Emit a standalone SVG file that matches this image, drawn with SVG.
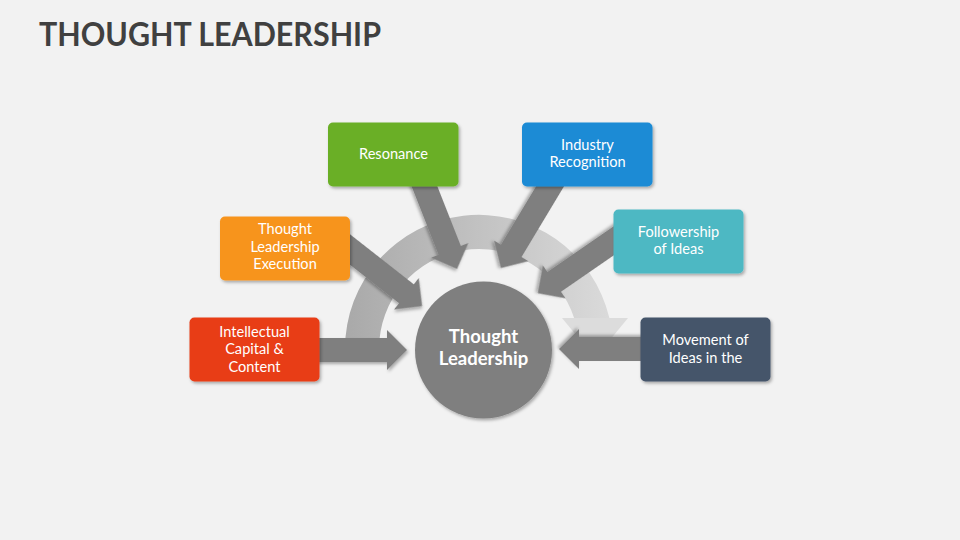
<svg xmlns="http://www.w3.org/2000/svg" width="960" height="540" viewBox="0 0 960 540">
<defs>
<filter id="sh" x="-20%" y="-20%" width="140%" height="140%">
<feDropShadow dx="1.5" dy="2" stdDeviation="1.5" flood-color="#000" flood-opacity="0.3"/>
</filter>
<linearGradient id="arcg" x1="345" y1="0" x2="630" y2="0" gradientUnits="userSpaceOnUse">
<stop offset="0" stop-color="#A9A9A9"/>
<stop offset="1" stop-color="#DEDEDE"/>
</linearGradient>
<style>
.box{filter:url(#sh)}
.lbl{font-family:Lato,"Open Sans","Liberation Sans",sans-serif;font-size:14.6px;fill:#FFFFFF;text-anchor:middle}
.arr{fill:#7F7F7F;filter:url(#sh)}
</style>
</defs>
<rect width="960" height="540" fill="#F2F2F2"/>
<text x="39" y="45.5" font-family="Lato,'Open Sans','Liberation Sans',sans-serif" font-weight="bold" font-size="32" fill="#404040" textLength="342" lengthAdjust="spacingAndGlyphs">THOUGHT LEADERSHIP</text>

<g id="cycle-arc">
<path d="M345,349 A134,134 0 0 1 609.4,318 L574.1,318 A100,100 0 0 0 379,349 Z" fill="url(#arcg)"/>
<polygon points="562,318 628,318 595,358" fill="#DCDCDC"/>
</g>

<g id="connectors">
<path class="arr" transform="translate(300,350)" d="M0,-12H87V-20L107,0L87,20V12H0Z"/>
<path class="arr" transform="translate(660,349) rotate(180)" d="M0,-12H81V-20L101,0L81,20V12H0Z"/>
<path class="arr" transform="translate(334,237) rotate(38.1)" d="M0,-12H92V-20L112,0L92,20V12H0Z"/>
<path class="arr" transform="translate(420,175) rotate(68.5)" d="M0,-12H81V-20L101,0L81,20V12H0Z"/>
<path class="arr" transform="translate(555,178) rotate(121)" d="M0,-12H85V-20L105,0L85,20V12H0Z"/>
<path class="arr" transform="translate(625,233) rotate(145.4)" d="M0,-12H86V-20L106,0L86,20V12H0Z"/>
</g>

<g id="center">
<circle cx="483.5" cy="350" r="68.5" fill="#7F7F7F" filter="url(#sh)"/>
<text x="483.5" y="343" font-family="Lato,'Open Sans','Liberation Sans',sans-serif" font-weight="bold" font-size="18.5" fill="#FFFFFF" text-anchor="middle">Thought</text>
<text x="483.5" y="365" font-family="Lato,'Open Sans','Liberation Sans',sans-serif" font-weight="bold" font-size="18.5" fill="#FFFFFF" text-anchor="middle">Leadership</text>
</g>

<g id="resonance">
<rect class="box" x="328" y="122.5" width="130.5" height="64" rx="5" fill="#6AAF28"/>
<text class="lbl" x="393.5" y="159">Resonance</text>
</g>

<g id="industry-recognition">
<rect class="box" x="522" y="122.5" width="130.5" height="64" rx="5" fill="#1B8BD5"/>
<text class="lbl" x="587.5" y="149.5">Industry</text>
<text class="lbl" x="587.5" y="167">Recognition</text>
</g>

<g id="thought-leadership-execution">
<rect class="box" x="220" y="216.5" width="130" height="64" rx="5" fill="#F7941E"/>
<text class="lbl" x="285" y="234.3">Thought</text>
<text class="lbl" x="285" y="251.8">Leadership</text>
<text class="lbl" x="285" y="269.3">Execution</text>
</g>

<g id="followership-of-ideas">
<rect class="box" x="613.5" y="209.5" width="130" height="64" rx="5" fill="#4DB8C3"/>
<text class="lbl" x="678.5" y="236.7">Followership</text>
<text class="lbl" x="678.5" y="254">of Ideas</text>
</g>

<g id="intellectual-capital">
<rect class="box" x="189.5" y="317.5" width="130" height="64" rx="5" fill="#E83D17"/>
<text class="lbl" x="254.5" y="336.5">Intellectual</text>
<text class="lbl" x="254.5" y="354">Capital &amp;</text>
<text class="lbl" x="254.5" y="371.5">Content</text>
</g>

<g id="movement-of-ideas">
<rect class="box" x="640.5" y="317.5" width="130" height="64" rx="5" fill="#44546A"/>
<text class="lbl" x="705.5" y="345">Movement of</text>
<text class="lbl" x="705.5" y="362.5">Ideas in the</text>
</g>
</svg>
